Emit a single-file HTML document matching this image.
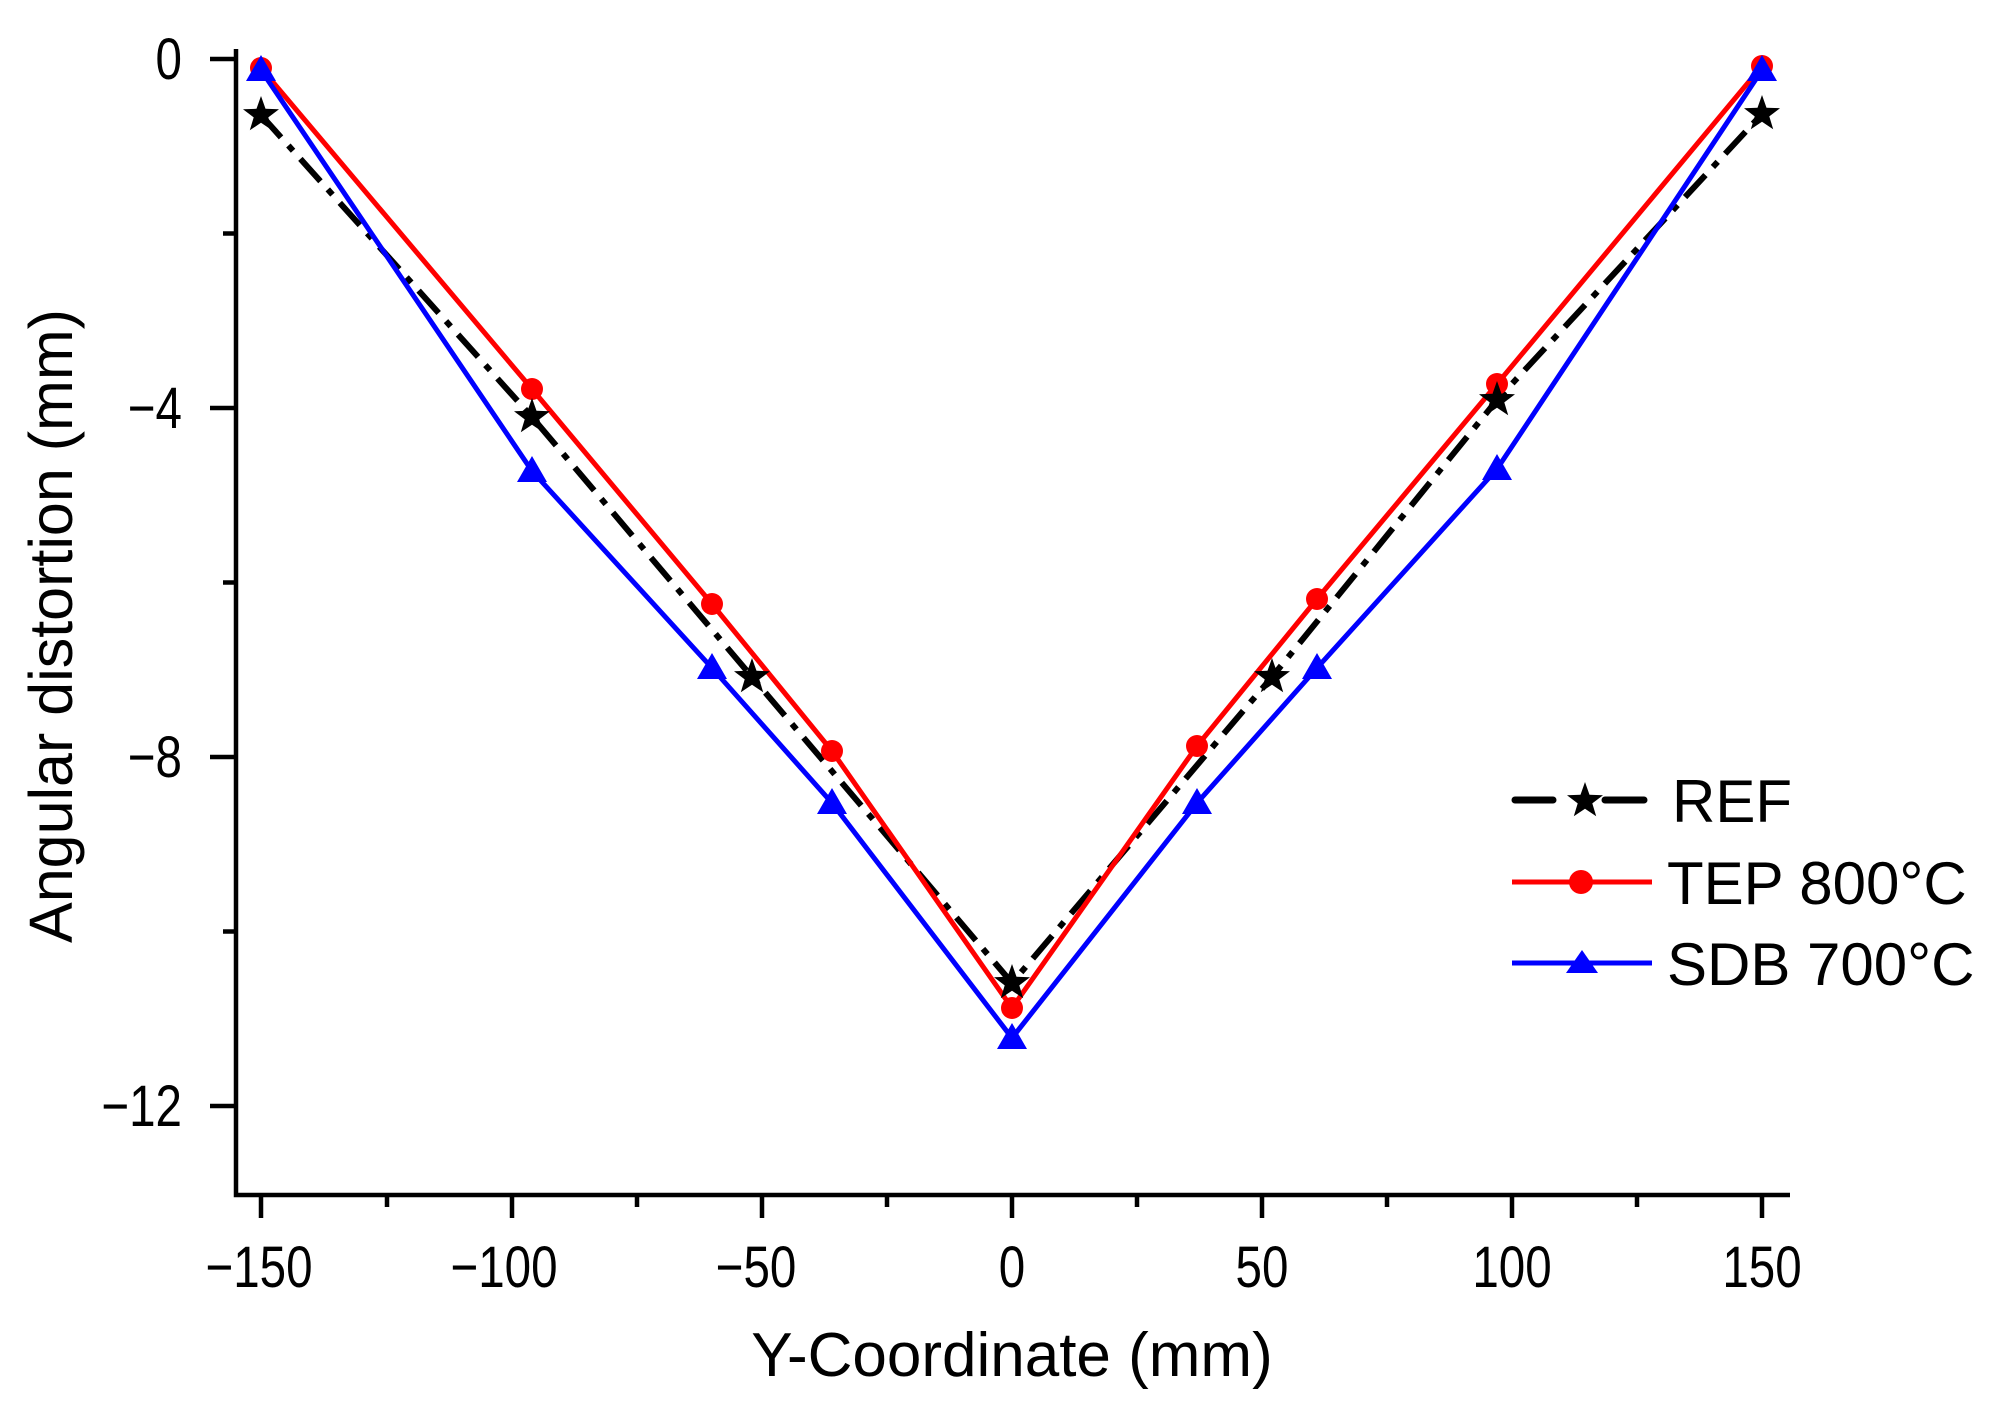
<!DOCTYPE html>
<html><head><meta charset="utf-8"><style>
html,body{margin:0;padding:0;background:#fff;}
svg{display:block;font-family:"Liberation Sans",Arial,sans-serif;}
</style></head><body>
<svg width="2003" height="1412" viewBox="0 0 2003 1412" xmlns="http://www.w3.org/2000/svg">
<defs>
<path id="star" d="M0,-19 L4.5,-6.2 L18,-5.8 L7.3,2.4 L11.2,15.3 L0,7.7 L-11.2,15.3 L-7.3,2.4 L-18,-5.8 L-4.5,-6.2 Z" fill="#000"/>
<path id="tri" d="M0,-15 L15,11 L-15,11 Z" fill="#0000ff"/>
</defs>
<g stroke="#000" stroke-width="4.5" fill="none">
<path d="M236,49 L236,1195 L1790,1195"/>
<path d="M210,59 H236 M210,408 H236 M210,757 H236 M210,1106 H236"/>
<path d="M223,233.5 H236 M223,582.5 H236 M223,931.5 H236"/>
<path d="M261,1195 V1218 M512,1195 V1218 M762,1195 V1218 M1012,1195 V1218 M1262,1195 V1218 M1512,1195 V1218 M1762,1195 V1218"/>
<path d="M387,1195 V1207 M637,1195 V1207 M887,1195 V1207 M1137,1195 V1207 M1387,1195 V1207 M1637,1195 V1207"/>
</g>
<g font-size="58" fill="#000">
<g text-anchor="end">
<text transform="translate(182,79) scale(0.82,1)">0</text>
<text transform="translate(182,428) scale(0.82,1)">−4</text>
<text transform="translate(182,777) scale(0.82,1)">−8</text>
<text transform="translate(182,1126) scale(0.82,1)">−12</text>
</g>
<g text-anchor="middle">
<text transform="translate(259,1287) scale(0.82,1)">−150</text>
<text transform="translate(504,1287) scale(0.82,1)">−100</text>
<text transform="translate(756,1287) scale(0.82,1)">−50</text>
<text transform="translate(1012,1287) scale(0.82,1)">0</text>
<text transform="translate(1262,1287) scale(0.82,1)">50</text>
<text transform="translate(1512,1287) scale(0.82,1)">100</text>
<text transform="translate(1762,1287) scale(0.82,1)">150</text>
</g>
</g>
<text x="1012" y="1376" font-size="62" text-anchor="middle">Y-Coordinate (mm)</text>
<text transform="translate(72,626) rotate(-90)" font-size="61" text-anchor="middle">Angular distortion (mm)</text>

<polyline fill="none" stroke="#000" stroke-width="6" stroke-dasharray="30,11,7,11" points="261,115 532,417 752,677 1012,983 1272,677 1497,400 1762,114"/>
<polyline fill="none" stroke="#ff0000" stroke-width="5" points="261,68 532,389 712,604 832,751 1012,1008 1197,746 1317,599 1497,384 1762,66"/>
<polyline fill="none" stroke="#0000ff" stroke-width="5" points="261,70 532,471 712,668 832,803 1012,1038 1197,803 1317,668 1497,469 1762,70"/>
<g fill="#ff0000">
<circle cx="261" cy="68" r="11"/><circle cx="532" cy="389" r="11"/><circle cx="712" cy="604" r="11"/><circle cx="832" cy="751" r="11"/><circle cx="1012" cy="1008" r="11"/><circle cx="1197" cy="746" r="11"/><circle cx="1317" cy="599" r="11"/><circle cx="1497" cy="384" r="11"/><circle cx="1762" cy="66" r="11"/>
</g>
<g>
<use href="#tri" x="261" y="70"/><use href="#tri" x="532" y="471"/><use href="#tri" x="712" y="668"/><use href="#tri" x="832" y="803"/><use href="#tri" x="1012" y="1038"/><use href="#tri" x="1197" y="803"/><use href="#tri" x="1317" y="668"/><use href="#tri" x="1497" y="469"/><use href="#tri" x="1762" y="70"/>
</g>
<g>
<use href="#star" x="261" y="115"/><use href="#star" x="532" y="417"/><use href="#star" x="752" y="677"/><use href="#star" x="1012" y="983"/><use href="#star" x="1272" y="677"/><use href="#star" x="1497" y="400"/><use href="#star" x="1762" y="114"/>
</g>

<path d="M1515,800 H1553 M1605,800 H1644" stroke="#000" stroke-width="7" stroke-linecap="round"/>
<use href="#star" x="1585" y="801"/>
<path d="M1512,882 H1652" stroke="#ff0000" stroke-width="5"/>
<circle cx="1581" cy="882" r="12" fill="#ff0000"/>
<path d="M1512,963 H1652" stroke="#0000ff" stroke-width="5"/>
<path d="M1582,950 L1598,973 L1566,973 Z" fill="#0000ff"/>
<g font-size="60" fill="#000">
<text x="1672" y="822">REF</text>
<text x="1667" y="904">TEP 800°C</text>
<text x="1667" y="985">SDB 700°C</text>
</g>
</svg>
</body></html>
